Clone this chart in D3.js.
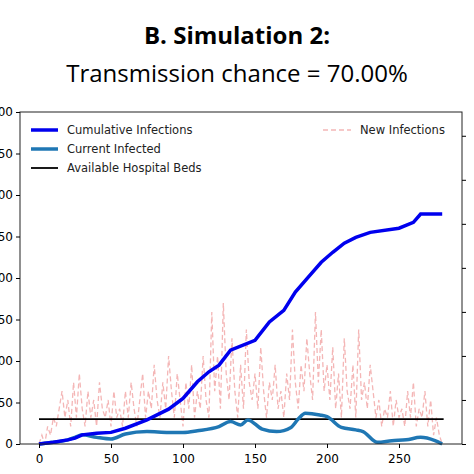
<!DOCTYPE html><html><head><meta charset="utf-8"><script src="https://cdn.jsdelivr.net/npm/d3@7"></script>
<style>body{margin:0;background:#fff}svg{display:block}</style></head><body><svg id="c" width="474" height="474"></svg>
<script>
const cumDays=[0,10,20,25,30,40,50,60,75,90,100,110,118,125,133,150,160,170,178,187,196,204,212,220,230,250,260,265,270,280];
const cumVals=[0,2,5,7,11,13,14,19,29,42,55,75,87,95,113,125,147,161,183,201,219,231,242,249,255,260,267,277,277,277];
const curDays=[0,10,20,25,30,40,50,60,75,90,100,110,125,133,140,145,155,165,175,180,185,195,200,210,220,225,235,245,255,265,275,280];
const curVals=[0,2,5,8,11,8,6,12,15,14,14,16,21,27,23,29,18,15,20,30,37,35,33,20,17,15,2,4,5,8,4,0];
const newVals=[0,1,0,2,1,3,2,4,6,3,5,2,7,3,8,4,2,6,3,5,2,7,4,3,5,2,6,3,4,2,6,3,7,4,2,5,8,3,6,4,9,5,3,7,4,10,6,3,8,5,2,7,4,9,3,6,4,10,5,3,15,6,10,4,16,8,5,12,6,3,9,4,13,7,5,8,4,11,6,3,7,5,9,4,6,3,8,5,13,7,4,9,6,12,8,5,15,7,13,6,9,5,11,4,8,3,12,6,4,9,3,13,5,7,4,9,6,3,5,2,4,3,6,2,5,3,4,2,6,3,7,2,4,3,6,2,5,1,3,1,0];
const xTicks=[0,50,100,150,200,250];
const yTicks=[0,50,100,150,200,250,300,350,400];
const y2Ticks=[0,5,10,15,20,25,30,35];
const beds=30;
const svg=d3.select("#c");
const L=20,R=462,T=112,B=444;
const x=d3.scaleLinear().domain([0,250]).range([39,399]);
const y=d3.scaleLinear().domain([0,400]).range([B,T]);
const y2=d3.scaleLinear().domain([0,37.7]).range([B,T]);
svg.append("text").attr("x",237).attr("y",44).attr("text-anchor","middle").attr("font-family","Open Sans").attr("font-weight","bold").attr("font-size",24).text("B. Simulation 2:");
svg.append("text").attr("x",237).attr("y",82).attr("text-anchor","middle").attr("font-family","Open Sans").attr("font-size",24).text("Transmission chance = 70.00%");
const nd=newVals.map((v,i)=>[i*2,v]);
svg.append("path").datum(nd).attr("fill","none").attr("stroke","#f4b6b6").attr("stroke-width",1.3).attr("stroke-dasharray","5,3")
 .attr("d",d3.line().x(d=>x(d[0])).y(d=>y2(d[1])));
svg.append("line").attr("x1",x(0)).attr("x2",x(281)).attr("y1",y(beds)).attr("y2",y(beds)).attr("stroke","#000").attr("stroke-width",1.8);
const cur=curDays.map((d,i)=>[d,curVals[i]]);
svg.append("path").datum(cur).attr("fill","none").attr("stroke","#1f77b4").attr("stroke-width",3.5).attr("d",d3.line().curve(d3.curveMonotoneX).x(d=>x(d[0])).y(d=>y(d[1])));
const cum=cumDays.map((d,i)=>[d,cumVals[i]]);
svg.append("path").datum(cum).attr("fill","none").attr("stroke","#0000ee").attr("stroke-width",3.5).attr("d",d3.line().x(d=>x(d[0])).y(d=>y(d[1])));
svg.append("rect").attr("x",L).attr("y",T).attr("width",R-L).attr("height",B-T).attr("fill","none").attr("stroke","#222").attr("stroke-width",1);
svg.append("g").attr("transform",`translate(0,${B})`).call(d3.axisBottom(x).tickValues(xTicks).tickSize(4).tickSizeOuter(0)).call(g=>g.select(".domain").remove()).selectAll("text").attr("font-size",12).attr("font-family","DejaVu Sans").attr("dy","1em");
svg.append("g").attr("transform",`translate(${L},0)`).call(d3.axisLeft(y).tickValues(yTicks).tickSize(4)).call(g=>g.select(".domain").remove()).selectAll("text").attr("font-size",12).attr("font-family","DejaVu Sans");
svg.append("g").attr("transform",`translate(${R},0)`).call(d3.axisRight(y2).tickValues(y2Ticks).tickSize(4).tickFormat("")).call(g=>g.select(".domain").remove());
const lg=[["Cumulative Infections","#0000ee",3.5,null,31,130],["Current Infected","#1f77b4",3.5,null,31,149],["Available Hospital Beds","#000",1.8,null,31,168]];
lg.forEach(l=>{svg.append("line").attr("x1",l[4]).attr("x2",l[4]+27).attr("y1",l[5]).attr("y2",l[5]).attr("stroke",l[1]).attr("stroke-width",l[2]);
 svg.append("text").attr("x",l[4]+36).attr("y",l[5]+4).attr("font-family","DejaVu Sans").attr("font-size",11.5).attr("fill","#222").text(l[0]);});
svg.append("line").attr("x1",323).attr("x2",351).attr("y1",130).attr("y2",130).attr("stroke","#f4b6b6").attr("stroke-width",1.3).attr("stroke-dasharray","5,3");
svg.append("text").attr("x",360).attr("y",134).attr("font-family","DejaVu Sans").attr("font-size",11.5).attr("fill","#222").text("New Infections");
</script></body></html>
